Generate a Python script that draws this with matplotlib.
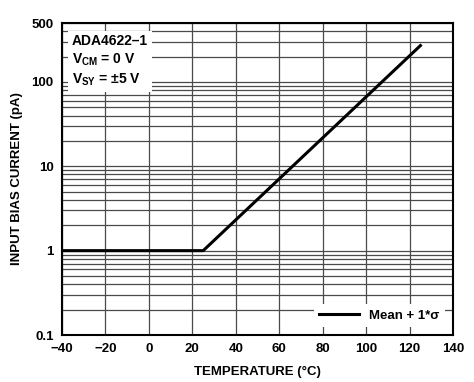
import matplotlib
matplotlib.use("Agg")
import matplotlib.pyplot as plt
from matplotlib.ticker import FixedLocator, NullFormatter, LogLocator
import numpy as np

plt.rcParams['font.family'] = ['Liberation Sans', 'DejaVu Sans']
plt.rcParams['mathtext.fontset'] = 'custom'
plt.rcParams['mathtext.rm'] = 'Liberation Sans:bold'
plt.rcParams['mathtext.bf'] = 'Liberation Sans:bold'
plt.rcParams['mathtext.it'] = 'Liberation Sans:bold'

temperature = [-40, 25, 125]
bias_current = [1.0, 1.0, 270.0]
x_ticks = [-40, -20, 0, 20, 40, 60, 80, 100, 120, 140]
x_ticklabels = ['\u221240', '\u221220', '0', '20', '40', '60', '80', '100', '120', '140']
y_ticks = [0.1, 1, 10, 100, 500]
y_ticklabels = ['0.1', '1', '10', '100', '500']

fig = plt.figure(figsize=(4.74, 3.82), dpi=100)
ax = fig.add_axes([62/474, 47/382, (453-62)/474, (335-23)/382])

ax.set_yscale('log')
ax.set_xlim(-40, 140)
ax.set_ylim(0.1, 500)

ax.plot(temperature, bias_current, color='black', lw=2.2, label='Mean + 1*\u03c3', zorder=3)

ax.xaxis.set_major_locator(FixedLocator(x_ticks))
ax.set_xticklabels(x_ticklabels)
ax.yaxis.set_major_locator(FixedLocator(y_ticks))
ax.set_yticklabels(y_ticklabels)
ax.yaxis.set_minor_locator(LogLocator(base=10, subs=np.arange(2, 10)))
ax.yaxis.set_minor_formatter(NullFormatter())

ax.grid(True, which='both', axis='y', color='#4a4a4a', lw=0.9)
ax.grid(True, which='major', axis='x', color='#4a4a4a', lw=0.9)
ax.set_axisbelow(True)

for s in ax.spines.values():
    s.set_linewidth(1.5)
    s.set_color('black')

ax.tick_params(which='both', length=0, pad=6)
for lab in ax.get_xticklabels() + ax.get_yticklabels():
    lab.set_fontweight('bold')
    lab.set_fontsize(9.5)

ax.set_xlabel('TEMPERATURE (\u00b0C)', fontsize=9.5, fontweight='bold', labelpad=8)
ax.set_ylabel('INPUT BIAS CURRENT (pA)', fontsize=9.5, fontweight='bold', labelpad=6)

txt = 'ADA4622\u20131\n$\\mathbf{V_{CM}}$ = 0 V\n$\\mathbf{V_{SY}}$ = \u00b15 V'
ax.text(0.025, 0.965, txt, transform=ax.transAxes, fontsize=10, fontweight='bold',
        va='top', ha='left', linespacing=1.3,
        bbox=dict(facecolor='white', edgecolor='none', pad=3), zorder=4)

leg = ax.legend(loc='lower right', frameon=True, fancybox=False, fontsize=9.5,
                handlelength=3.0, borderaxespad=0.6)
leg.get_frame().set_edgecolor('none')
leg.get_frame().set_facecolor('white')
leg.get_frame().set_alpha(1)
for t in leg.get_texts():
    t.set_fontweight('bold')

fig.savefig('out.png', dpi=100)
